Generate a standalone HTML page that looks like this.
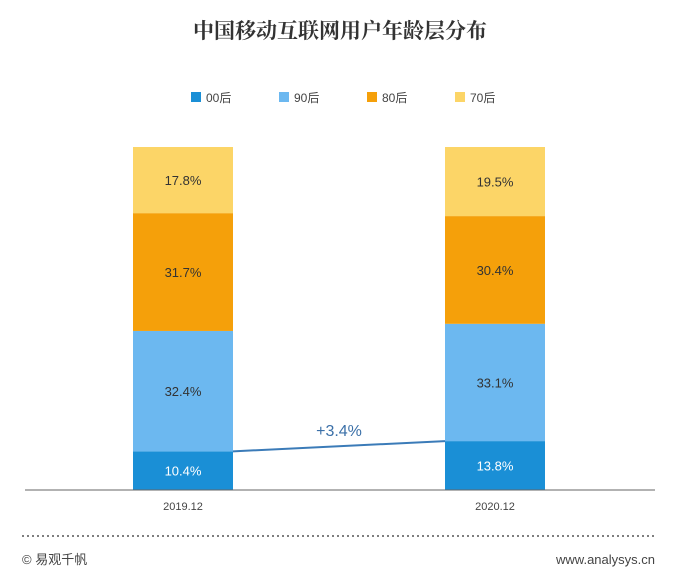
<!DOCTYPE html>
<html><head><meta charset="utf-8"><style>
body{margin:0;background:#fff;font-family:"Liberation Sans","Noto Sans CJK SC",sans-serif;}
#c{position:relative;width:680px;height:579px;overflow:hidden;}
</style></head><body>
<div id="c">
<svg id="s" width="680" height="579" xmlns="http://www.w3.org/2000/svg">
<text x="340" y="38" text-anchor="middle" font-size="21" font-weight="bold" fill="#333" font-family="Noto Serif CJK SC, serif">中国移动互联网用户年龄层分布</text>
<g id="legend"></g>
<g id="bars"></g>
<line x1="25" y1="490" x2="655" y2="490" stroke="#666" stroke-width="1"/>
<line x1="22" y1="536" x2="655" y2="536" stroke="#555" stroke-width="1.5" stroke-dasharray="2,3"/>
<text x="22" y="564" font-size="13" fill="#444">© 易观千帆</text>
<text x="655" y="564" font-size="13" fill="#444" text-anchor="end">www.analysys.cn</text>
</svg>
</div>
<script>
const categories=["2019.12","2020.12"];
const seriesNames=["00后","90后","80后","70后"];
const s00=[10.4,13.8];
const s90=[32.4,33.1];
const s80=[31.7,30.4];
const s70=[17.8,19.5];
const changeLabel="+3.4%";
const colors=["#1a8fd6","#6cb8f0","#f5a00a","#fcd567"];
const NS="http://www.w3.org/2000/svg";
const svg=document.getElementById('s');
const bars=document.getElementById('bars');
const leg=document.getElementById('legend');
const base=490,top0=147,bw=100;
const xPos=i=>133+i*312;
function mk(t,a,p){const e=document.createElementNS(NS,t);for(const k in a)e.setAttribute(k,a[k]);(p||svg).appendChild(e);return e;}
const series=[s00,s90,s80,s70];
const tops=[];
categories.forEach((c,i)=>{
  const tot=series.reduce((a,s)=>a+s[i],0);
  const sc=v=>v/tot*(base-top0);
  let y=base;
  series.forEach((s,k)=>{
    const h=sc(s[i]);y-=h;
    const r=mk('rect',{x:xPos(i),y:y,width:bw,height:h,fill:colors[k]},bars);
    
    
    const t=mk('text',{x:xPos(i)+bw/2,y:y+h/2+5,'text-anchor':'middle','font-size':13,fill:k==0?'#fff':'#333'},bars);
    t.textContent=s[i].toFixed(1)+'%';
    
    
    if(k==0)tops.push(y);
  });
  const l=mk('text',{x:xPos(i)+bw/2,y:510,'text-anchor':'middle','font-size':11,fill:'#444'});
  l.textContent=c;
  
  
});
const ln=mk('line',{x1:xPos(0)+bw,y1:tops[0],x2:xPos(1),y2:tops[1],stroke:'#3b7bb8','stroke-width':2});


const ct=mk('text',{x:(xPos(0)+bw+xPos(1))/2,y:(tops[0]+tops[1])/2-10,'text-anchor':'middle','font-size':16,fill:'#3b70a8'});
ct.textContent=changeLabel;


seriesNames.forEach((n,k)=>{
  const x=191+k*88;
  const r=mk('rect',{x:x,y:92,width:10,height:10,fill:colors[k]},leg);
  
  
  const t=mk('text',{x:x+15,y:102,'font-size':12,fill:'#444'},leg);
  t.textContent=n;
  
  
});
</script>
</body></html>
